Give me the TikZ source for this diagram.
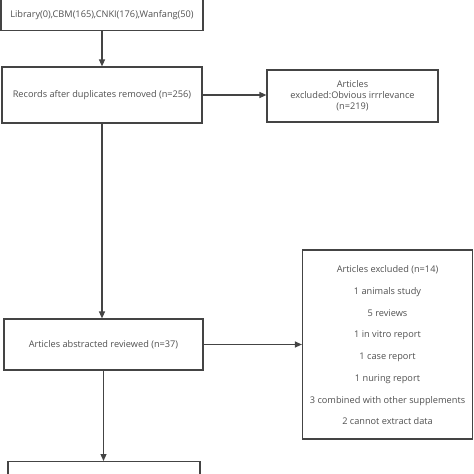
\documentclass[tikz,border=0pt]{standalone}
\usepackage{fontspec}
\setmainfont{Open Sans}
\usetikzlibrary{arrows.meta}
\definecolor{linec}{HTML}{444444}
\definecolor{textc}{HTML}{505050}
\tikzset{
  box/.style={draw=linec, line width=1.2pt, inner sep=0pt, text=textc,
    font={\fontsize{9.2}{11}\selectfont}, align=center},
  txt/.style={inner sep=0pt, text=textc, font={\fontsize{9.2}{11}\selectfont}},
  conn/.style={draw=linec, line width=1.2pt},
  arr/.style={conn, -{Triangle[length=7pt,width=6pt]}}
}
\begin{document}
\begin{tikzpicture}[x=1pt,y=-1pt]
\useasboundingbox (0,0) rectangle (474,474);
% top box (cut off at top)
\node[box, minimum width=202pt, minimum height=60pt, anchor=north] (b1) at (102,-30) {};
\node[txt] (t1) at (102,15) {Library(0),CBM(165),CNKI(176),Wanfang(50)};
% records
\node[box, minimum width=200pt, minimum height=56pt] (b2) at (102,95) {Records after duplicates removed (n=256)};
% excluded 1
\node[box, minimum width=171pt, minimum height=52pt] (b3) at (352.5,96)
  {\raisebox{4pt}{\begin{tabular}{@{}c@{}}Articles\\excluded:Obvious irrrlevance\\(n=219)\end{tabular}}};
% abstracts
\node[box, minimum width=199pt, minimum height=51pt] (b4) at (103.5,344.5) {Articles abstracted reviewed (n=37)};
% excluded 2
\node[box, minimum width=170pt, minimum height=189pt, font={\fontsize{9.2}{21.7}\selectfont}] (b5) at (387.5,344.5)
  {\raisebox{4pt}{\begin{tabular}{@{}c@{}}Articles excluded (n=14)\\1 animals study\\5 reviews\\1 in vitro report\\1 case report\\1 nuring report\\3 combined with other supplements\\2 cannot extract data\end{tabular}}};
% bottom box (cut off)
\node[box, minimum width=192pt, minimum height=40pt, anchor=north] (b6) at (104,461) {};
% connectors
\draw[arr] (b1.south) -- (b2.north);
\draw[arr] (b2.east) -- (b2.east -| b3.west);
\draw[arr] (b2.south) -- (b4.north -| b2.south);
\draw[arr] (b4.east) -- (b4.east -| b5.west);
\draw[arr] (b4.south) -- (b6.north -| b4.south);
\end{tikzpicture}
\end{document}
